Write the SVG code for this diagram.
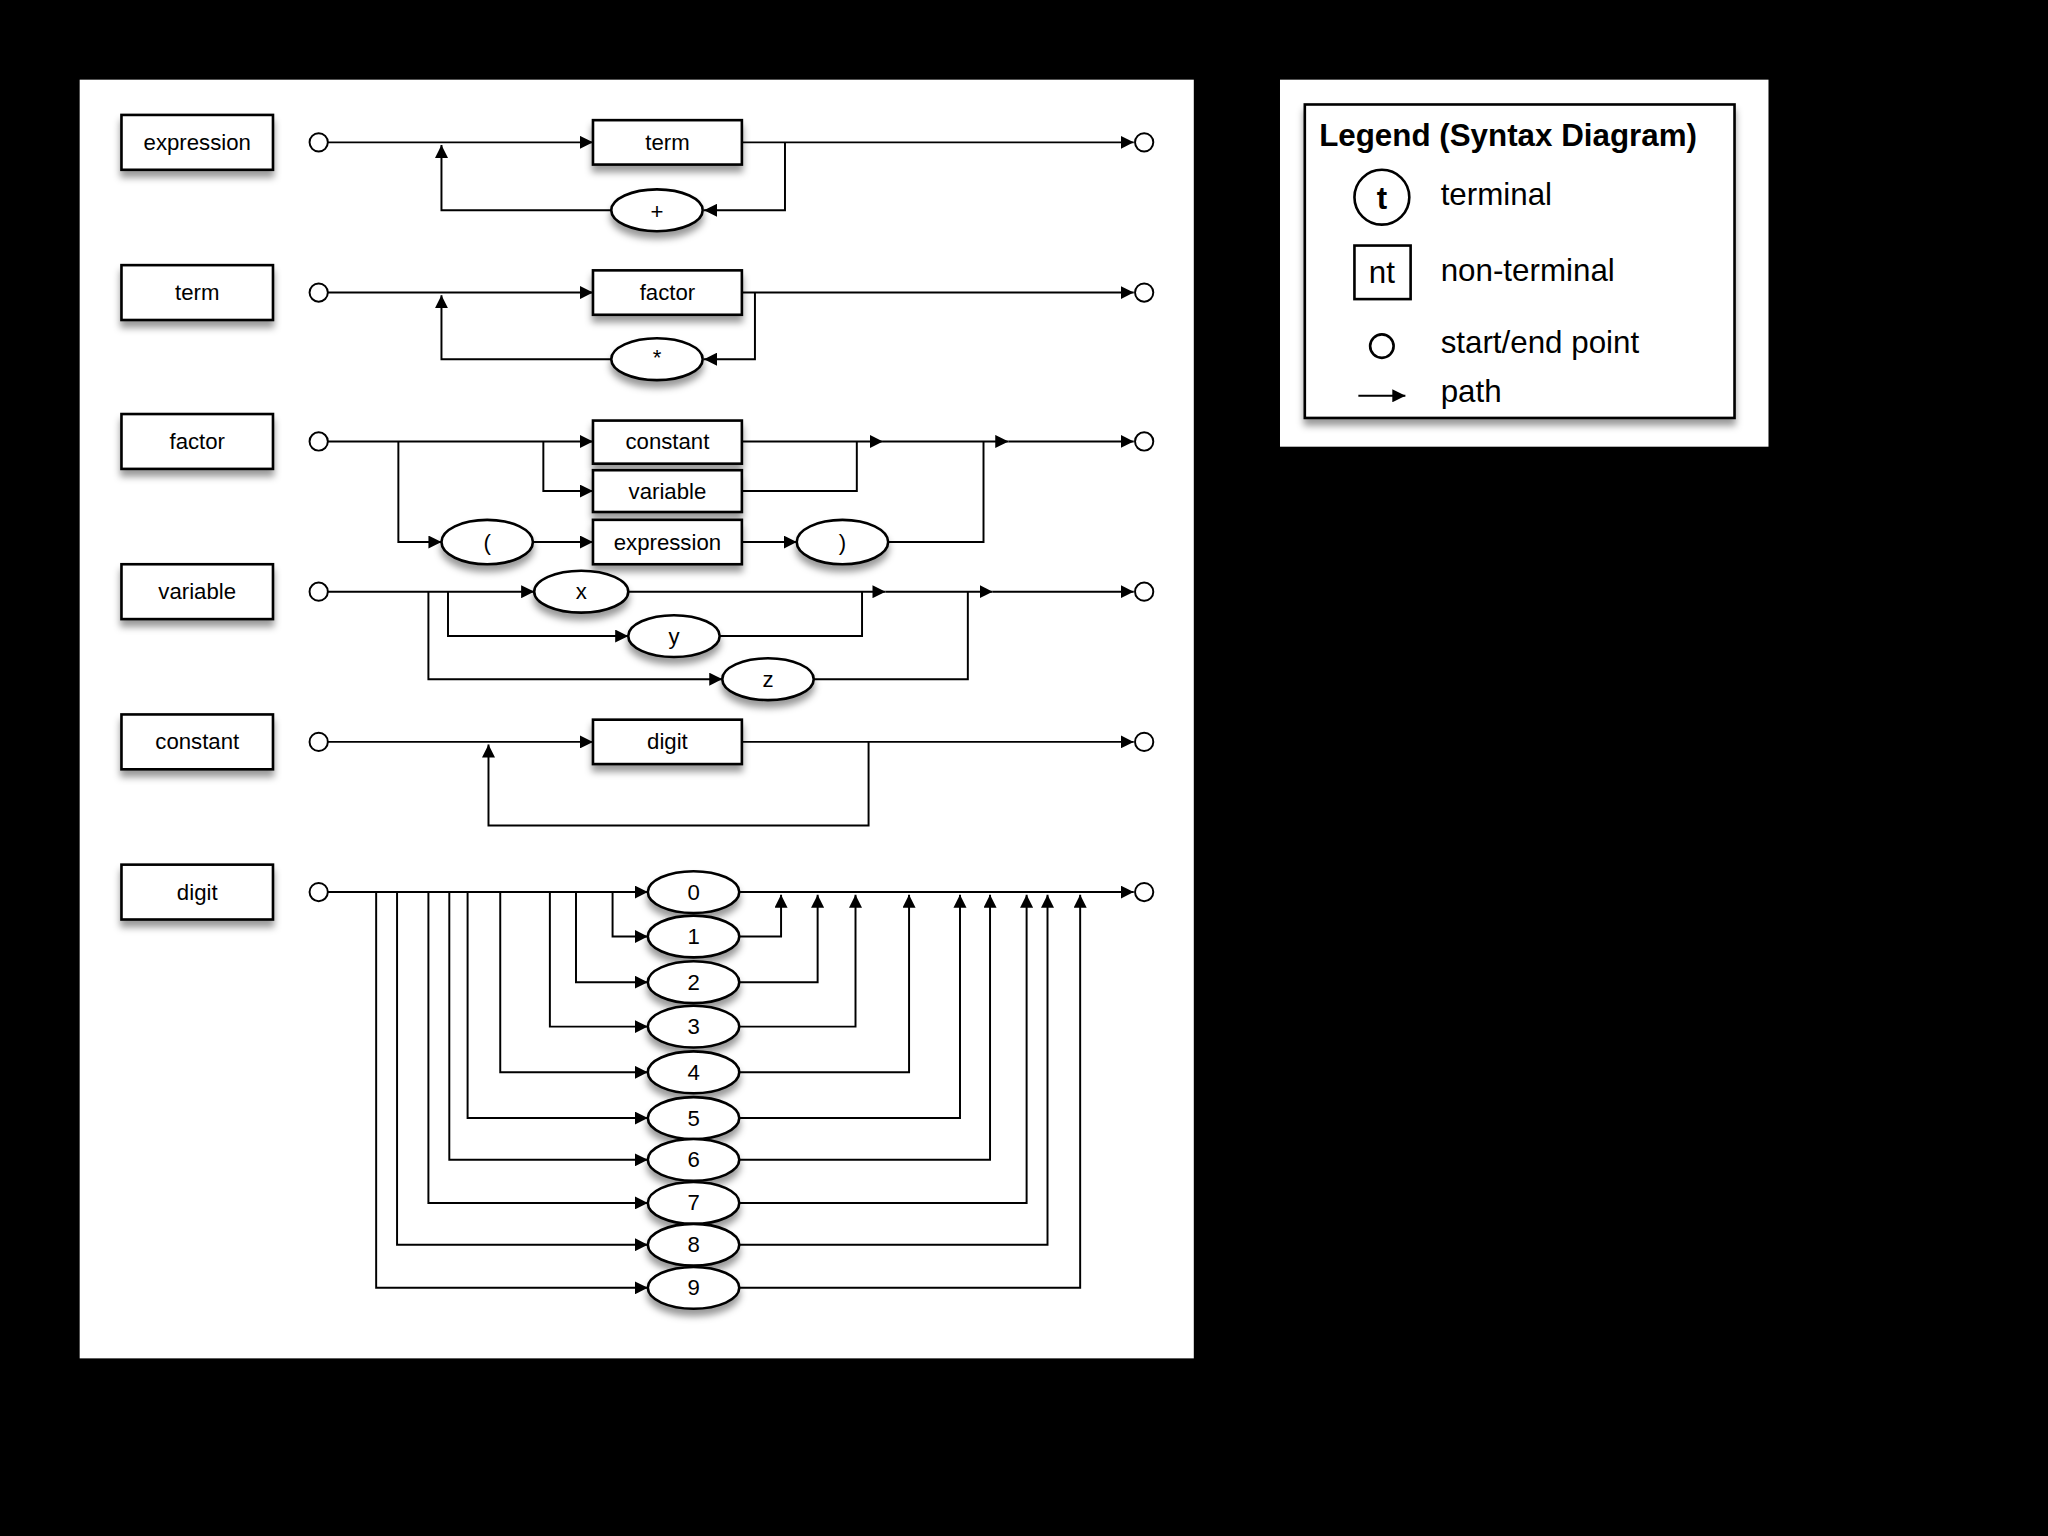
<svg xmlns="http://www.w3.org/2000/svg" width="2048" height="1536" viewBox="0 0 2048 1536">
<defs>
<marker id="ah" viewBox="0 0 10 10" refX="10" refY="5" markerWidth="10" markerHeight="10" markerUnits="userSpaceOnUse" orient="auto"><path d="M0,0 L10,5 L0,10 z" fill="#000"/></marker>
<filter id="sh" x="-20%" y="-30%" width="150%" height="190%"><feDropShadow dx="0" dy="5" stdDeviation="3" flood-color="#000" flood-opacity="0.4"/></filter>
<style>
.b{fill:#fff;stroke:#000;stroke-width:2;filter:url(#sh)}
.c{fill:#fff;stroke:#000;stroke-width:1.5}
.t{font-family:"Liberation Sans",Arial,sans-serif;font-size:17px;text-anchor:middle;dominant-baseline:central;fill:#000}
.l{fill:none;stroke:#000;stroke-width:1.5}
.a{marker-end:url(#ah)}
.lg{font-family:"Liberation Sans",Arial,sans-serif;font-size:24px;fill:#000}
</style>
</defs>
<rect width="2048" height="1536" fill="#000"/>
<g transform="scale(1.30612)">
<rect x="61" y="61" width="853" height="979" fill="#fff"/>
<rect x="980" y="61" width="374" height="281" fill="#fff"/>

<g id="connectors" class="l">
<path class="a" d="M251,109 H454"/><path class="a" d="M568,109 H868"/><path class="a" d="M601,109 V161 H539"/><path class="a" d="M468,161 H338 V111"/>
<path class="a" d="M251,224 H454"/><path class="a" d="M568,224 H868"/><path class="a" d="M578,224 V275 H539"/><path class="a" d="M468,275 H338 V226"/>
<path class="a" d="M251,338 H454"/><path class="a" d="M416,338 V376 H454"/><path class="a" d="M305,338 V415 H338"/><path class="a" d="M408,415 H454"/><path class="a" d="M568,415 H610"/><path d="M680,415 H753 V338"/>
<path class="a" d="M568,338 H676"/><path class="a" d="M676,338 H772"/><path class="a" d="M772,338 H868"/><path d="M568,376 H656 V338"/>
<path class="a" d="M251,453 H409"/><path class="a" d="M481,453 H678"/><path class="a" d="M678,453 H760"/><path class="a" d="M760,453 H868"/>
<path class="a" d="M343,453 V487 H481"/><path d="M551,487 H660 V453"/><path class="a" d="M328,453 V520 H553"/><path d="M623,520 H741 V453"/>
<path class="a" d="M251,568 H454"/><path class="a" d="M568,568 H868"/><path class="a" d="M665,568 V632 H374 V570"/>
<path class="a" d="M251,683 H496"/><path class="a" d="M566,683 H868"/>
<path class="a" d="M469,683 V717 H496"/><path class="a" d="M566,717 H598 V685"/>
<path class="a" d="M441,683 V752 H496"/><path class="a" d="M566,752 H626 V685"/>
<path class="a" d="M421,683 V786 H496"/><path class="a" d="M566,786 H655 V685"/>
<path class="a" d="M383,683 V821 H496"/><path class="a" d="M566,821 H696 V685"/>
<path class="a" d="M358,683 V856 H496"/><path class="a" d="M566,856 H735 V685"/>
<path class="a" d="M344,683 V888 H496"/><path class="a" d="M566,888 H758 V685"/>
<path class="a" d="M328,683 V921 H496"/><path class="a" d="M566,921 H786 V685"/>
<path class="a" d="M304,683 V953 H496"/><path class="a" d="M566,953 H802 V685"/>
<path class="a" d="M288,683 V986 H496"/><path class="a" d="M566,986 H827 V685"/>
</g>

<g id="endpoints" class="c">
<circle cx="244" cy="109" r="7"/><circle cx="876" cy="109" r="7"/>
<circle cx="244" cy="224" r="7"/><circle cx="876" cy="224" r="7"/>
<circle cx="244" cy="338" r="7"/><circle cx="876" cy="338" r="7"/>
<circle cx="244" cy="453" r="7"/><circle cx="876" cy="453" r="7"/>
<circle cx="244" cy="568" r="7"/><circle cx="876" cy="568" r="7"/>
<circle cx="244" cy="683" r="7"/><circle cx="876" cy="683" r="7"/>
</g>

<g id="n-expression"><rect class="b" x="93" y="88" width="116" height="42"/><text class="t" x="151" y="109">expression</text></g>
<g id="n-term"><rect class="b" x="93" y="203" width="116" height="42"/><text class="t" x="151" y="224">term</text></g>
<g id="n-factor"><rect class="b" x="93" y="317" width="116" height="42"/><text class="t" x="151" y="338">factor</text></g>
<g id="n-variable"><rect class="b" x="93" y="432" width="116" height="42"/><text class="t" x="151" y="453">variable</text></g>
<g id="n-constant"><rect class="b" x="93" y="547" width="116" height="42"/><text class="t" x="151" y="568">constant</text></g>
<g id="n-digit"><rect class="b" x="93" y="662" width="116" height="42"/><text class="t" x="151" y="683">digit</text></g>

<g id="e-term"><rect class="b" x="454" y="92" width="114" height="34"/><text class="t" x="511" y="109">term</text></g>
<g id="e-plus"><ellipse class="b" cx="503" cy="161" rx="35" ry="16"/><text class="t" x="503" y="162">+</text></g>
<g id="t-factor"><rect class="b" x="454" y="207" width="114" height="34"/><text class="t" x="511" y="224">factor</text></g>
<g id="t-star"><ellipse class="b" cx="503" cy="275" rx="35" ry="16"/><text class="t" x="503" y="274">*</text></g>
<g id="f-constant"><rect class="b" x="454" y="322" width="114" height="33"/><text class="t" x="511" y="338">constant</text></g>
<g id="f-variable"><rect class="b" x="454" y="360" width="114" height="32"/><text class="t" x="511" y="376">variable</text></g>
<g id="f-lparen"><ellipse class="b" cx="373" cy="415" rx="35" ry="17"/><text class="t" x="373" y="415">(</text></g>
<g id="f-expression"><rect class="b" x="454" y="398" width="114" height="34"/><text class="t" x="511" y="415">expression</text></g>
<g id="f-rparen"><ellipse class="b" cx="645" cy="415" rx="35" ry="17"/><text class="t" x="645" y="415">)</text></g>
<g id="v-x"><ellipse class="b" cx="445" cy="453" rx="36" ry="16"/><text class="t" x="445" y="453">x</text></g>
<g id="v-y"><ellipse class="b" cx="516" cy="487" rx="35" ry="16"/><text class="t" x="516" y="487">y</text></g>
<g id="v-z"><ellipse class="b" cx="588" cy="520" rx="35" ry="16"/><text class="t" x="588" y="520">z</text></g>
<g id="c-digit"><rect class="b" x="454" y="551" width="114" height="34"/><text class="t" x="511" y="568">digit</text></g>
<g id="d-0"><ellipse class="b" cx="531" cy="683" rx="35" ry="16"/><text class="t" x="531" y="683">0</text></g>
<g id="d-1"><ellipse class="b" cx="531" cy="717" rx="35" ry="16"/><text class="t" x="531" y="717">1</text></g>
<g id="d-2"><ellipse class="b" cx="531" cy="752" rx="35" ry="16"/><text class="t" x="531" y="752">2</text></g>
<g id="d-3"><ellipse class="b" cx="531" cy="786" rx="35" ry="16"/><text class="t" x="531" y="786">3</text></g>
<g id="d-4"><ellipse class="b" cx="531" cy="821" rx="35" ry="16"/><text class="t" x="531" y="821">4</text></g>
<g id="d-5"><ellipse class="b" cx="531" cy="856" rx="35" ry="16"/><text class="t" x="531" y="856">5</text></g>
<g id="d-6"><ellipse class="b" cx="531" cy="888" rx="35" ry="16"/><text class="t" x="531" y="888">6</text></g>
<g id="d-7"><ellipse class="b" cx="531" cy="921" rx="35" ry="16"/><text class="t" x="531" y="921">7</text></g>
<g id="d-8"><ellipse class="b" cx="531" cy="953" rx="35" ry="16"/><text class="t" x="531" y="953">8</text></g>
<g id="d-9"><ellipse class="b" cx="531" cy="986" rx="35" ry="16"/><text class="t" x="531" y="986">9</text></g>

<g id="legend">
<rect class="b" x="999" y="80" width="329" height="240"/>
<text class="lg" x="1010" y="112" font-weight="bold">Legend (Syntax Diagram)</text>
<circle cx="1058" cy="151" r="21" fill="#fff" stroke="#000" stroke-width="2"/>
<text class="lg" x="1058" y="160" text-anchor="middle" font-weight="bold">t</text>
<text class="lg" x="1103" y="157">terminal</text>
<rect x="1037" y="188" width="43" height="41" fill="#fff" stroke="#000" stroke-width="2"/>
<text class="lg" x="1058" y="217" text-anchor="middle">nt</text>
<text class="lg" x="1103" y="215">non-terminal</text>
<circle cx="1058" cy="265" r="9" fill="#fff" stroke="#000" stroke-width="2"/>
<text class="lg" x="1103" y="270">start/end point</text>
<path class="l a" d="M1040,303 H1076"/>
<text class="lg" x="1103" y="308">path</text>
</g>
</g>
</svg>
